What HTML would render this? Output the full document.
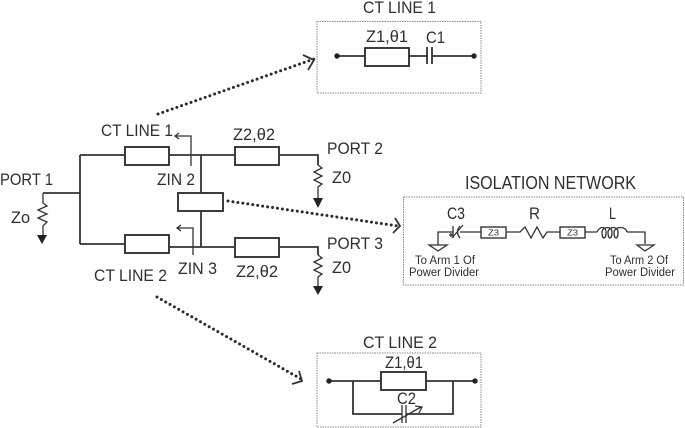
<!DOCTYPE html>
<html><head><meta charset="utf-8"><style>
html,body{margin:0;padding:0;background:#fff;width:685px;height:428px;overflow:hidden}
svg{display:block}
text{font-family:"Liberation Sans",sans-serif;fill:#2e2e2e}
.w{fill:none;stroke:#333;stroke-width:1.8}
.b{fill:#fff;stroke:#333;stroke-width:1.9}
.t{fill:none;stroke:#333;stroke-width:1.3}
.d{fill:none;stroke:#2a2a2a;stroke-width:3;stroke-linecap:round;stroke-dasharray:0 5}
.f{fill:none;stroke:#888;stroke-width:1;stroke-dasharray:1.5 1}
</style></head><body>
<svg width="685" height="428" viewBox="0 0 685 428" xmlns="http://www.w3.org/2000/svg">
<!-- main network -->
<path class="w" d="M43 193H80M80 155V244M80 155H125M169 155H235M279 155H318V165M80 244H125M169 247H235M279 247H318V255M201 155V193M201 211V247"/>
<rect class="b" x="125" y="147" width="44" height="18"/>
<rect class="b" x="125" y="235" width="44" height="18"/>
<rect class="b" x="235" y="147" width="44" height="18"/>
<rect class="b" x="235" y="238" width="44" height="19"/>
<rect class="b" x="178" y="193" width="45" height="18"/>
<!-- port terminations -->
<path class="t" d="M43 193V203L47 206L38 210L47 214L38 218L47 222L43 226V236"/>
<path d="M37 235H47L42 244Z" fill="#222"/>
<path class="t" d="M318 165L322 168L314 172L322 176L314 180L322 184L318 187V198"/>
<path d="M313 198H323L318 208Z" fill="#222"/>
<path class="t" d="M318 255L322 258L314 262L322 266L314 270L322 274L318 277V286"/>
<path d="M313 286H323L318 295Z" fill="#222"/>
<!-- Zin arrows -->
<path class="t" d="M191 166V136H176M179 133L175 136L179 139"/>
<path class="t" d="M193 255V228H178M181 225L177 228L181 231"/>
<!-- dotted arrows -->
<path class="d" d="M158 114L314 59"/>
<path class="w" d="M303 55L314 60L308 70"/>
<path class="d" d="M228 201L398 226"/>
<path class="w" d="M395 218L400 226L393 233"/>
<path class="d" d="M157 297L301 379"/>
<path class="w" d="M292 384L302 381L299 371"/>
<!-- CT line 1 -->
<rect class="f" x="317" y="21.5" width="164" height="71.5"/>
<path class="w" d="M337 56H365M409 56H427M432 56H474M427 47V64M432 47V64"/>
<rect class="b" x="365" y="48" width="44" height="18"/>
<circle cx="337" cy="56" r="2.7" fill="#222"/><circle cx="474" cy="56" r="2.7" fill="#222"/>
<!-- CT line 2 -->
<rect class="f" x="317" y="353" width="164" height="74"/>
<path class="w" d="M329 381H381M426 381H475M353 381V414H402M406 414H453V381"/>
<path class="t" d="M402 405V423M406 405V423M393 423L421 407M415 406L422 407L419 413"/>
<rect class="b" x="381" y="372" width="45" height="18"/>
<circle cx="329" cy="381" r="2.7" fill="#222"/><circle cx="475" cy="381" r="2.7" fill="#222"/>
<!-- isolation network -->
<rect class="f" x="403.5" y="197" width="280" height="88"/>
<path class="t" stroke-width="1.3" d="M438 245V232H453M460 232H481M506 232H520L525 227L531 238L537 227L543 238L547 232H560M585 232H597M627 232H645V244M429 245H447L438 251ZM637 245H654L645 251Z"/>
<path class="t" d="M453 226V238M460 226Q455 232 460 238M452 238L463 225M449 235H453M451 233V237"/>
<path class="t" d="M597 232C600 226 606 226 606 232C606 240 602 240 602 232C603 226 612 226 612 232C612 240 608 240 608 232C609 226 618 226 618 232C618 240 614 240 614 232C615 226 626 226 627 232"/>
<rect class="b" style="stroke-width:1.4" x="481" y="227" width="25" height="11"/>
<rect class="b" style="stroke-width:1.4" x="560" y="227" width="25" height="11"/>
<!-- labels -->
<g font-size="17">
<text x="363" y="13" textLength="73" lengthAdjust="spacingAndGlyphs">CT LINE 1</text>
<text x="366" y="42" textLength="42" lengthAdjust="spacingAndGlyphs">Z1,θ1</text>
<text x="426" y="43" textLength="19" lengthAdjust="spacingAndGlyphs">C1</text>
<text x="363" y="348" textLength="74" lengthAdjust="spacingAndGlyphs">CT LINE 2</text>
<text x="385" y="368" textLength="38" lengthAdjust="spacingAndGlyphs">Z1,θ1</text>
<text x="397" y="404" textLength="19" lengthAdjust="spacingAndGlyphs">C2</text>
<text x="101" y="136" textLength="72" lengthAdjust="spacingAndGlyphs">CT LINE 1</text>
<text x="0" y="185" textLength="53" lengthAdjust="spacingAndGlyphs">PORT 1</text>
<text x="11" y="223" textLength="19" lengthAdjust="spacingAndGlyphs">Zo</text>
<text x="157" y="185" textLength="38" lengthAdjust="spacingAndGlyphs">ZIN 2</text>
<text x="94" y="281" textLength="73" lengthAdjust="spacingAndGlyphs">CT LINE 2</text>
<text x="178" y="274" textLength="39" lengthAdjust="spacingAndGlyphs">ZIN 3</text>
<text x="233" y="140" textLength="42" lengthAdjust="spacingAndGlyphs">Z2,θ2</text>
<text x="236" y="277" textLength="42" lengthAdjust="spacingAndGlyphs">Z2,θ2</text>
<text x="327" y="154" textLength="56" lengthAdjust="spacingAndGlyphs">PORT 2</text>
<text x="332" y="183" textLength="19" lengthAdjust="spacingAndGlyphs">Z0</text>
<text x="327" y="249" textLength="56" lengthAdjust="spacingAndGlyphs">PORT 3</text>
<text x="332" y="273" textLength="19" lengthAdjust="spacingAndGlyphs">Z0</text>
<text x="447" y="219" textLength="18" lengthAdjust="spacingAndGlyphs">C3</text>
<text x="529" y="219" textLength="11" lengthAdjust="spacingAndGlyphs">R</text>
<text x="609" y="219" textLength="7" lengthAdjust="spacingAndGlyphs">L</text>
</g>
<text x="465" y="189" font-size="18" textLength="171" lengthAdjust="spacingAndGlyphs">ISOLATION NETWORK</text>
<g font-size="11.500">
<text x="415" y="264" textLength="60" lengthAdjust="spacingAndGlyphs">To Arm 1 Of</text>
<text x="409" y="276" textLength="70" lengthAdjust="spacingAndGlyphs">Power Divider</text>
<text x="610" y="264" textLength="58" lengthAdjust="spacingAndGlyphs">To Arm 2 Of</text>
<text x="605" y="276" textLength="70" lengthAdjust="spacingAndGlyphs">Power Divider</text>
</g>
<g font-size="8.500">
<text x="488" y="235.500" textLength="11" lengthAdjust="spacingAndGlyphs">Z3</text>
<text x="567" y="235.500" textLength="11" lengthAdjust="spacingAndGlyphs">Z3</text>
</g>
</svg>
</body></html>
